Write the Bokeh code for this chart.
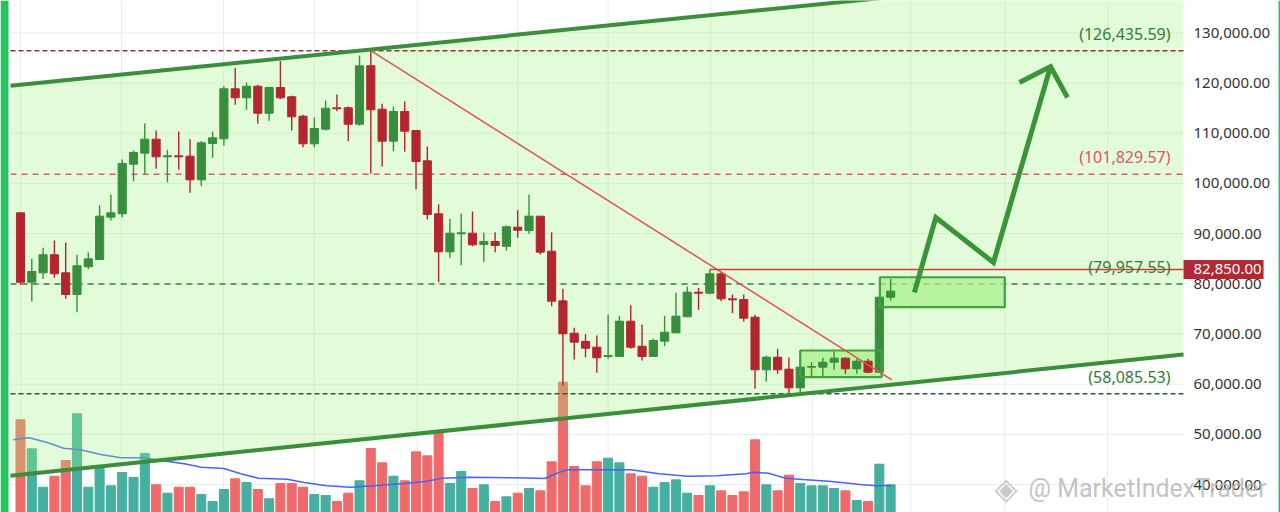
from bokeh.plotting import figure
from bokeh.models import Range1d, Span, Label
from bokeh.embed import file_html
from bokeh.resources import INLINE
from bokeh.core.properties import value

# ---- weekly candles (price) ----
opens = [94140, 80320, 82190, 85780, 82190, 77870, 83390, 84840, 93270, 93950,
         103830, 106020, 108810, 105300, 105500, 105420, 100720, 107950, 108890, 118850,
         117050, 119360, 113980, 119100, 117250, 113390, 107890, 110800, 115060, 115060,
         111790, 123430, 114780, 108410, 114320, 110540, 104500, 93950, 86380, 89960,
         90080, 87830, 88430, 87490, 91280, 90620, 93470, 86500, 76610, 70160,
         68510, 67370, 65520, 65520, 72550, 67570, 65520, 68570, 70240, 73430,
         78330, 78130, 81990, 77010, 76870, 73350, 62870, 65380, 62990, 59280,
         63390, 63390, 64380, 65180, 63070, 64580, 62390, 77330]
highs = [94200, 84980, 87170, 88630, 88230, 85780, 86240, 95660, 97790, 104760,
         106550, 111930, 110540, 106690, 110340, 108810, 108410, 110340, 119360, 123030,
         120100, 119640, 119100, 124340, 117450, 113670, 113130, 116510, 117710, 115320,
         125480, 126435.59, 115860, 115320, 116320, 110540, 107350, 95860, 92950, 93950,
         94400, 90160, 90280, 91610, 94660, 97790, 93470, 90280, 79000, 71240,
         69960, 69700, 73830, 73630, 75740, 71890, 69050, 73630, 78210, 79460,
         79200, 82850, 82310, 77870, 77870, 73830, 65660, 67050, 65380, 65380,
         64380, 65260, 66520, 65380, 65060, 65060, 77330, 81000]
lows = [79800, 76480, 81000, 81200, 77010, 74340, 82910, 84840, 92610, 93270,
        100440, 101910, 102910, 100240, 102710, 98130, 99520, 105100, 107490, 115660,
        114660, 111870, 112470, 116770, 110540, 107210, 107210, 110540, 114380, 108410,
        111530, 101910, 103370, 106420, 106300, 98850, 92810, 80320, 85180, 83710,
        87490, 84380, 86300, 86570, 89160, 89960, 85840, 75540, 59740, 64920,
        65380, 62270, 65060, 65520, 67050, 64720, 65520, 67570, 70240, 73430,
        74820, 77930, 76540, 74140, 72490, 59090, 60540, 62070, 58085.53, 58290,
        61400, 61540, 62870, 62070, 62070, 62190, 62390, 76670]
closes = [80320, 82450, 85780, 81990, 77870, 83590, 84980, 93470, 94140, 103960,
          106160, 108810, 105300, 105500, 105300, 100720, 108090, 109080, 118850, 117050,
          119360, 113980, 119100, 117050, 113270, 107890, 110940, 114980, 114860, 111790,
          123430, 114660, 108410, 114320, 110400, 104360, 93810, 86380, 90080, 90160,
          87770, 88430, 87630, 91360, 90680, 93470, 86300, 76540, 70040, 68370,
          67170, 65260, 65720, 72550, 67370, 65520, 68710, 70360, 73550, 78330,
          78130, 81990, 77010, 76810, 73150, 62870, 65380, 62870, 59280, 63390,
          63530, 64380, 65180, 63070, 64580, 62390, 77330, 78530]
# ---- volume (arbitrary units) and its moving average ----
volumes = [92.7, 63.7, 25.3, 36.3, 52, 98.7, 25.3, 46, 26.7, 40,
           35, 59, 27.7, 19.3, 25.3, 25.3, 18, 11, 23, 33.7,
           30, 23, 13.7, 29, 29, 25.3, 18, 17, 11, 19.3,
           31.7, 64, 49.7, 36.3, 31.7, 60.7, 56.7, 80.3, 29, 41,
           24, 27.7, 11, 15.7, 19.3, 24, 21.7, 50.7, 130.3, 46,
           26.7, 50.7, 54.3, 49.7, 38.7, 36.3, 25.3, 30, 32.7, 19.3,
           17, 26.7, 21.7, 17, 20.7, 72.7, 27.7, 21.7, 37.3, 29,
           26.7, 26.7, 24, 21.7, 12, 11, 48.3, 27.7]
ma_x = [-0.65, 0.77, 2.29, 3.81, 5.33, 7.1, 8.88, 10.9, 12.4, 14.5, 16.0, 18.0, 19.5,
        21.05, 23.6, 25.1, 27.1, 29.2, 31.2, 33.7, 35.8, 37.3, 39.8, 43.9, 46.4, 47.7,
        48.4, 51.5, 54.0, 56.5, 59.1, 61.6, 64.2, 64.9, 66.2, 67.7, 69.2, 71.8, 74.3,
        75.8, 77.1]
ma_v = [72.7, 74.7, 70.3, 64.3, 62.7, 58, 54.7, 54.7, 52, 48.7, 45.3, 44, 38.7,
        34.3, 33.3, 30, 26.7, 25.3, 26.7, 28.7, 31, 34.3, 35.3, 34.7, 34, 40.3,
        42.7, 42.7, 42.7, 38.7, 36.3, 36.7, 38.7, 40.3, 39.3, 34.3, 33, 31, 28,
        26.7, 27]

# ---- drawings ----
levels = [126435.59, 101829.57, 79957.55, 58085.53]
level_text = ["(126,435.59)", "(101,829.57)", "(79,957.55)", "(58,085.53)"]
level_line_colors = ["#9b3232", "#e0577a", "#3d7f45", "#2f5c36"]
level_text_colors = ["#357a3d", "#e0507a", "#357a3d", "#357a3d"]
level_dash = ["5 3", "6 5", "6 5", "5 3"]
chart_left = -0.885      # left edge of the price pane (index units)
chart_right = 102.92     # right edge of the price pane / start of price scale
channel_upper = [119470, 142980]
channel_lower = [41770, 65910]
trend_x = [31, 77.1]
trend_y = [126435.59, 60880]
resist_price = 82850
resist_start = 61
box_left = [69.0, 76.05]
box_right = [76.2, 87.1]
box_top = [66710, 81310]
box_bottom = [61400, 75340]
path_x = [79.1, 81.0, 86.1, 91.15]
path_y = [78270, 93210, 84240, 123290]
head_x = [88.4, 91.15, 92.65]
head_y = [120100, 123290, 117110]
grid_x = [0, 8.94, 17.96, 26.0, 35.1, 44.0, 52.0, 61.1, 70.1, 78.8, 87.1, 96.2]
y_ticks = [40000, 50000, 60000, 70000, 80000, 90000, 100000, 110000, 120000, 130000]
tick_labels = [f"{t:,.2f}" for t in y_ticks]

X0, X1 = -1.77, 111.5
Y0, Y1 = 34444, 136434

idx = list(range(len(opens)))
GREEN = "#388e3c"
RED = "#b3252f"
up = [c >= o for o, c in zip(opens, closes)]
candle_colors = [GREEN if u else RED for u in up]
vol_colors = ["#45b09f" if u else "#ef6b6b" for u in up]
body_top = [max(o, c) for o, c in zip(opens, closes)]
body_bot = [min(o, c) for o, c in zip(opens, closes)]

p = figure(width=1280, height=512, output_backend="svg", toolbar_location=None,
           x_range=Range1d(X0, X1), y_range=Range1d(Y0, Y1),
           x_axis_location=None, y_axis_location=None,
           min_border_left=0, min_border_right=0, min_border_top=0, min_border_bottom=0)
p.outline_line_color = None
p.background_fill_color = "white"
p.grid.visible = False
p.extra_y_ranges = {"vol": Range1d(0, 512)}

# grid
for gx in grid_x:
    p.add_layout(Span(location=gx, dimension="height", line_color="#e9eeea",
                      line_width=1, level="underlay"))
p.segment(x0=[chart_left] * len(y_ticks), x1=[chart_right] * len(y_ticks),
          y0=y_ticks, y1=y_ticks, line_color="#e9eeea", line_width=1)

# volume
p.vbar(x=idx, top=volumes, bottom=0, width=0.8, color=vol_colors, y_range_name="vol")
p.line(ma_x, ma_v, y_range_name="vol", line_color="#4a62f2", line_width=1.5)

# channel fill
cx = [chart_left, chart_right]
p.patch(cx + cx[::-1], channel_upper + channel_lower[::-1],
        fill_color="#9ef27f", fill_alpha=0.3, line_color=None)

# level lines
for lv, lc, ld in zip(levels, level_line_colors, level_dash):
    p.line([chart_left, chart_right], [lv, lv], line_color=lc, line_width=1.4, line_dash=ld)

# boxes (fill)
p.quad(left=box_left, right=box_right, top=box_top, bottom=box_bottom,
       fill_color="#aaf08c", fill_alpha=0.75, line_color=None)

# candles
p.segment(x0=idx, x1=idx, y0=lows, y1=highs, line_color=candle_colors, line_width=1.4)
p.vbar(x=idx, top=body_top, bottom=body_bot, width=0.72, fill_color=candle_colors,
       line_color=candle_colors, line_width=1)

# box outlines
p.quad(left=box_left, right=box_right, top=box_top, bottom=box_bottom,
       fill_color=None, line_color="#3fa43f", line_width=2.2)

# channel lines
p.line(cx, channel_upper, line_color="#3b8e3b", line_width=4)
p.line(cx, channel_lower, line_color="#3b8e3b", line_width=4)

# trend line and resistance
p.line(trend_x, trend_y, line_color="#e05252", line_width=1.5)
p.line([resist_start, chart_right], [resist_price, resist_price],
       line_color="#d63a3a", line_width=1.5)

# projected path arrow
p.line(path_x, path_y, line_color="#3a953a", line_width=5, line_join="miter")
p.line(head_x, head_y, line_color="#3a953a", line_width=5, line_join="miter")

# level labels
for lv, t, tc in zip(levels, level_text, level_text_colors):
    p.add_layout(Label(x=101.77, y=lv + 3390, text=t, text_align="right",
                       text_baseline="middle", text_color=tc,
                       text_font="Noto Sans", text_font_size="16px"))

# price scale labels
p.text(x=[103.8] * len(y_ticks), y=y_ticks, text=tick_labels, text_baseline="middle",
       text_align="left", text_color="#333333", text_font=value("Noto Sans"),
       text_font_size="15px")

# current price tag
p.quad(left=[chart_right], right=[110.0], top=[resist_price + 1890],
       bottom=[resist_price - 1890], fill_color="#b22833", line_color=None)
p.text(x=[103.8], y=[resist_price], text=[f"{resist_price:,.2f}"], text_baseline="middle",
       text_align="left", text_color="white", text_font=value("Noto Sans"),
       text_font_size="15px")

# window edges
p.quad(left=[X0], right=[-1.062], top=[Y1], bottom=[Y0], fill_color="#23c45e", line_color=None)
p.quad(left=[111.33], right=[X1], top=[Y1], bottom=[Y0], fill_color="#23c45e", line_color=None)

# watermark
p.add_layout(Label(x=86.2, y=39220, text="\u25c8", text_align="left",
                   text_baseline="middle", text_color="#c2c2c2", text_alpha=0.9,
                   text_font="DejaVu Sans", text_font_size="30px"))
p.add_layout(Label(x=89.2, y=39220, text="@ MarketIndexTrader", text_align="left",
                   text_baseline="middle", text_color="#b8b8b8", text_alpha=0.85,
                   text_font="Roboto", text_font_size="25px"))

open("out.html", "w").write(file_html(p, INLINE))
